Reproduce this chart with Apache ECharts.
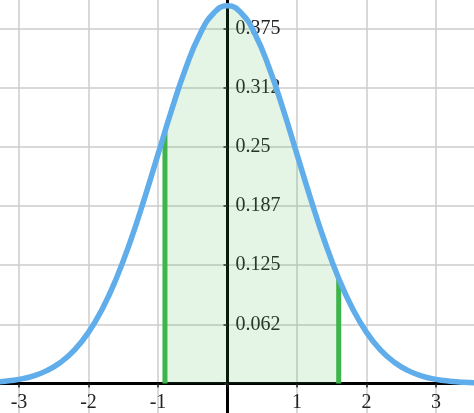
<!DOCTYPE html>
<html>
<head>
<meta charset="utf-8">
<script src="https://cdn.jsdelivr.net/npm/echarts@6/dist/echarts.min.js"></script>
<style>
html,body{margin:0;padding:0;background:#fff;}
#chart{width:474px;height:413px;}
</style>
</head>
<body>
<div id="chart"></div>
<script>
// Curve values (standard normal density shape)
var curveX = [-3.6,-3.4,-3.2,-3.0,-2.8,-2.6,-2.4,-2.2,-2.0,-1.8,-1.6,-1.4,-1.2,-1.0,-0.8,-0.6,-0.4,-0.2,0,0.2,0.4,0.6,0.8,1.0,1.2,1.4,1.6,1.8,2.0,2.2,2.4,2.6,2.8,3.0,3.2,3.4,3.6];
var curveY = [0.0006,0.0012,0.0024,0.0044,0.0079,0.0136,0.0224,0.0355,0.0540,0.0790,0.1109,0.1497,0.1942,0.2420,0.2897,0.3332,0.3683,0.3910,0.3989,0.3910,0.3683,0.3332,0.2897,0.2420,0.1942,0.1497,0.1109,0.0790,0.0540,0.0355,0.0224,0.0136,0.0079,0.0044,0.0024,0.0012,0.0006];
// Shaded region
var shadeX = [-0.9,-0.8,-0.6,-0.4,-0.2,0,0.2,0.4,0.6,0.8,1.0,1.2,1.4,1.6];
var shadeY = [0.2661,0.2897,0.3332,0.3683,0.3910,0.3989,0.3910,0.3683,0.3332,0.2897,0.2420,0.1942,0.1497,0.1109];
// Vertical green markers
var markerX = [-0.9, 1.6];
var markerTop = [0.2661, 0.1109];
// Tick labels
var xTickValues = [-3,-2,-1,1,2,3];
var xTickLabels = ['-3','-2','-1','1','2','3'];
var yTickValues = [0.0625,0.125,0.1875,0.25,0.3125,0.375];
var yTickLabels = ['0.062','0.125','0.187','0.25','0.312','0.375'];

function pairs(xs, ys){ return xs.map(function(x,i){ return [x, ys[i]]; }); }

var blue = '#5fadea';
var green = '#3db54a';

// layout: x=0 at px 227.5, 69.5 px/unit; y=0 at px 383.5, 947 px/unit
var zeroX = 227.5, zeroY = 383.5;
var gridLeft = zeroX - 4*69.5, gridWidth = 8*69.5;
var gridTop = zeroY - 0.4375*947, gridHeight = 0.5*947;

var series = [
  {
    type:'line', data: pairs(shadeX, shadeY), smooth:true, showSymbol:false,
    lineStyle:{width:0}, areaStyle:{color:'rgba(61,181,74,0.2)'}, z:2, silent:true
  },
  {
    type:'line', data: pairs(curveX, curveY), smooth:true, showSymbol:false,
    lineStyle:{width:5.5, color:blue}, z:4, silent:true
  }
];
markerX.forEach(function(x,i){
  series.push({
    type:'line', data:[[x,0],[x,markerTop[i]]], showSymbol:false,
    lineStyle:{width:5, color:green, cap:'butt'}, z:3, silent:true
  });
});

var labelFont = 'Liberation Serif';

var chart = echarts.init(document.getElementById('chart'), null, {renderer:'canvas'});
chart.setOption({
  animation:false,
  backgroundColor:'#fff',
  grid:{left:gridLeft, width:gridWidth, top:gridTop, height:gridHeight, containLabel:false, outerBoundsMode:'none'},
  xAxis:{
    type:'value', min:-4, max:4, interval:1, position:'bottom',
    offset: -(gridTop + gridHeight - zeroY),
    axisLine:{onZero:false, lineStyle:{color:'#000', width:3}},
    axisTick:{show:true, length:4, lineStyle:{color:'#222', width:1.5}},
    splitLine:{show:true, lineStyle:{color:'#cccccc', width:1.5}},
    axisLabel:{
      margin:9, fontFamily:labelFont, fontSize:20, color:'#222',
      formatter:function(v){ var k = xTickValues.indexOf(v); return k>=0 ? xTickLabels[k] : ''; }
    }
  },
  yAxis:{
    type:'value', min:-0.0625, max:0.4375, interval:0.0625, position:'left',
    offset: -(zeroX - gridLeft),
    axisLine:{onZero:false, lineStyle:{color:'#000', width:3}},
    axisTick:{show:true, length:4, lineStyle:{color:'#222', width:1.5}},
    splitLine:{show:true, lineStyle:{color:'#cccccc', width:1.5}},
    axisLabel:{
      inside:true, margin:8, fontFamily:labelFont, fontSize:20, color:'#222',
      formatter:function(v){
        for (var k=0;k<yTickValues.length;k++){ if (Math.abs(yTickValues[k]-v)<1e-9) return yTickLabels[k]; }
        return '';
      }
    }
  },
  series: series
});
</script>
</body>
</html>
